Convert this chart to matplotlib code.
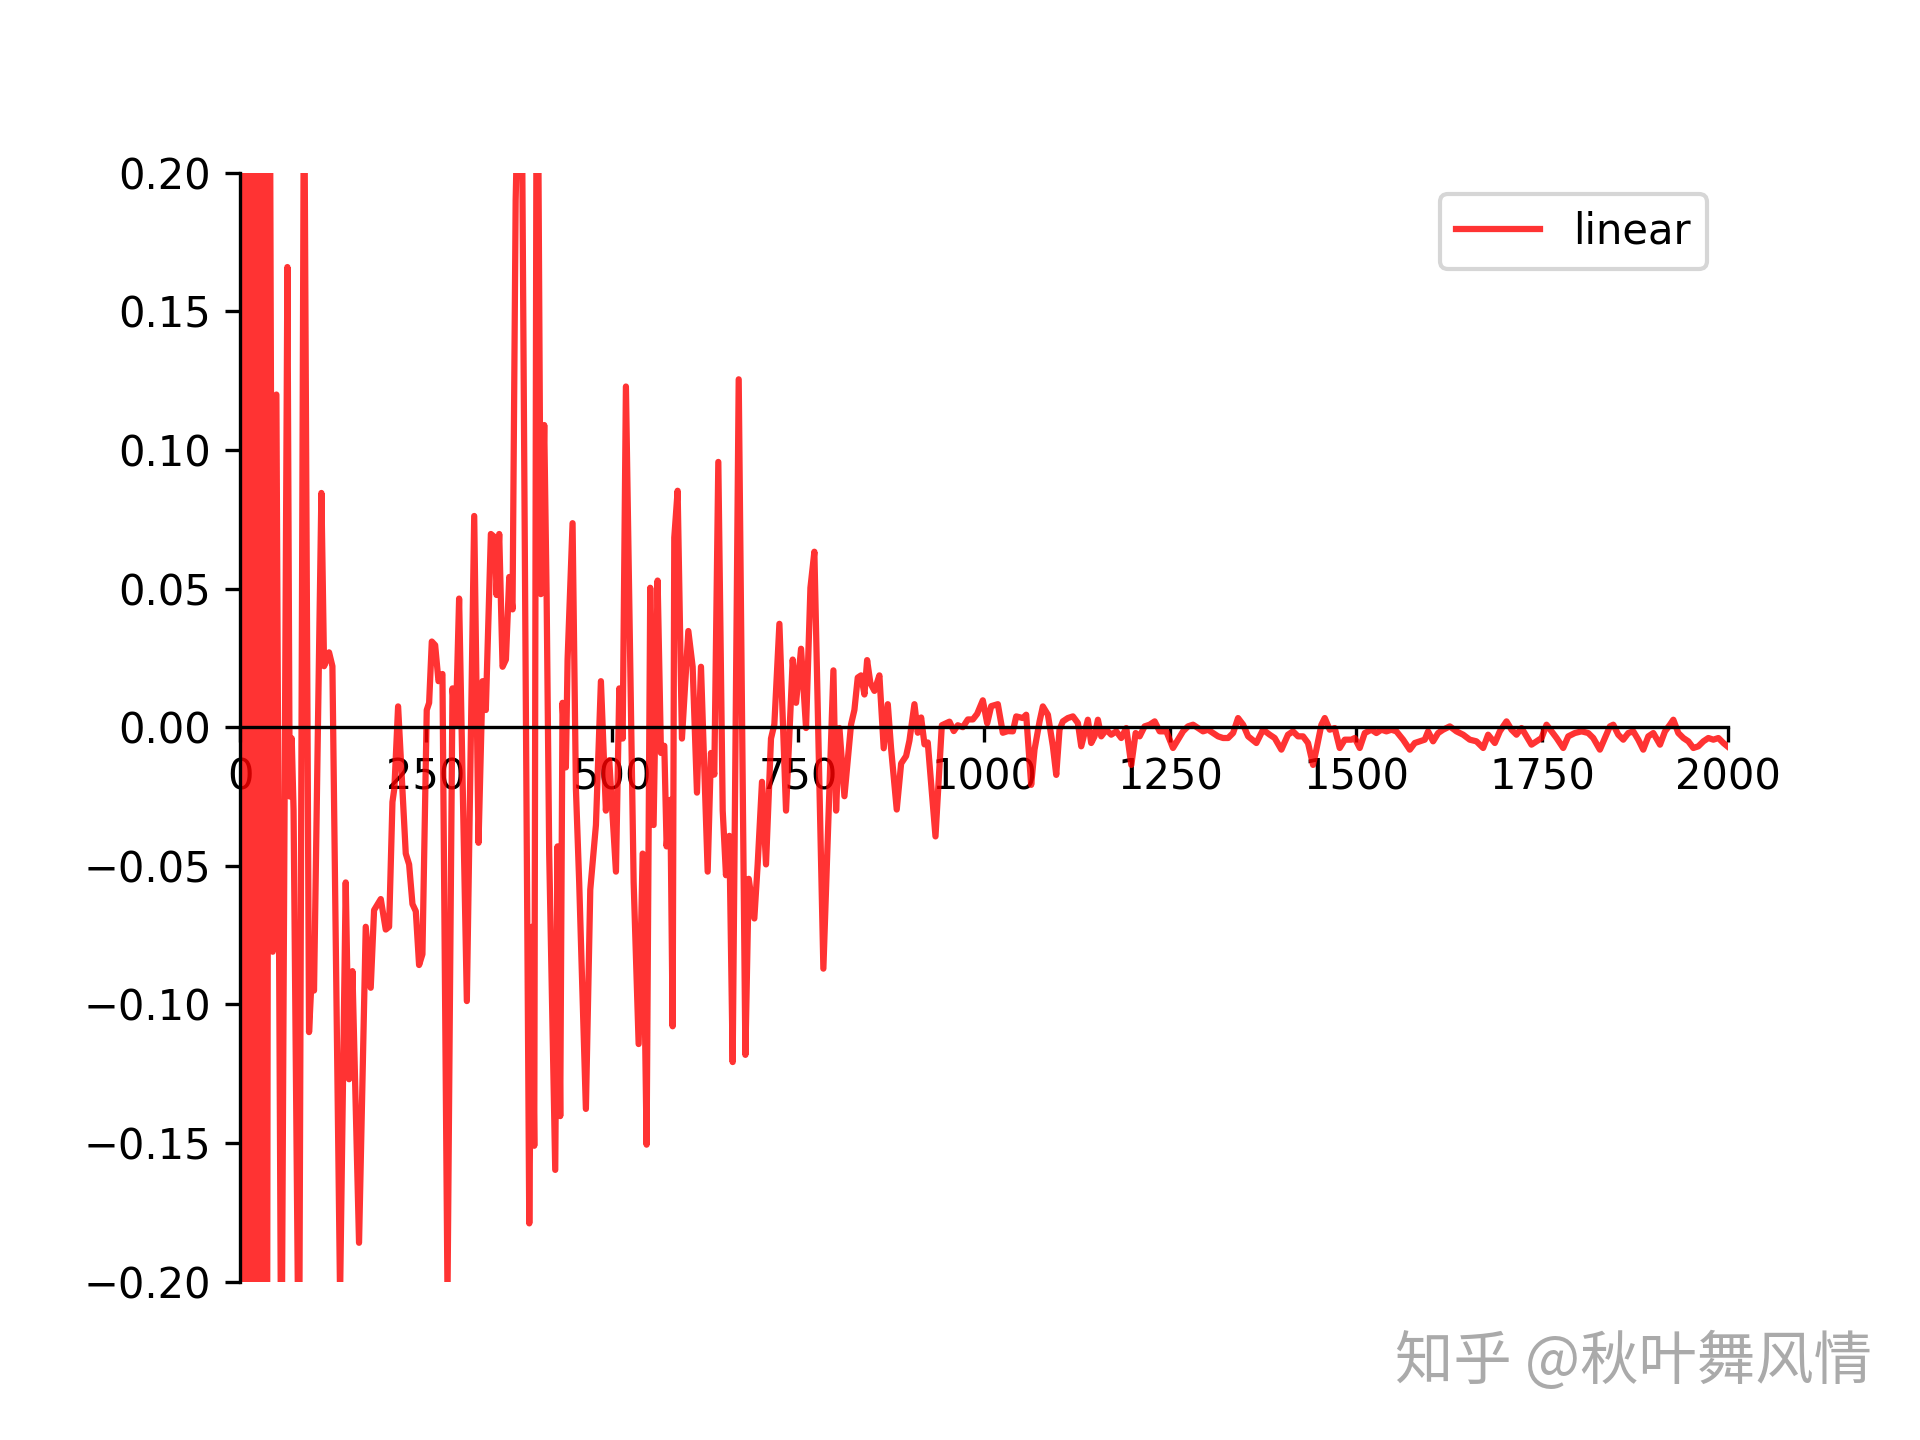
import matplotlib
matplotlib.use("Agg")
import matplotlib.pyplot as plt
import numpy as np

# ---- data ----
# early, heavily oscillating part (clipped by the y-limits)
x_head = [0, 2, 4, 6, 8, 10, 12, 14, 16, 18, 20, 22, 24, 26, 28, 30, 32, 34, 36, 39.5,
          44, 48.9, 55.6, 63.7, 66.8, 69.5, 72, 79.3, 86.1, 92.8, 96, 99.5, 109.4, 113,
          119.7, 124.2, 134.5, 142.1, 146.6, 151.1, 160, 169, 175.7, 180.2, 189.2, 195.9]
y_head = [-0.007, 0.45, -0.50, 0.60, -0.40, 0.55, -0.60, 0.50, -0.45, 0.40, -0.55, 0.60,
          -0.50, 0.45, -0.40, 0.50, -0.45, 0.35, -0.30, 0.30,
          -0.081, 0.120, -0.25, 0.166, -0.025, -0.004, -0.030, -0.25, 0.25, -0.110, -0.092,
          -0.095, 0.0845, 0.022, 0.027, 0.022, -0.205, -0.056, -0.127, -0.088, -0.186,
          -0.072, -0.094, -0.066, -0.062, -0.073]

x_mid1 = [200.4, 204.9, 207.5, 212.5, 218.3, 222.8, 227.3, 231.8, 236.3, 240.7, 245.2,
          251.0, 254.2, 257.8, 262.3, 266.8, 272.1, 278.9, 285.6, 290.1, 294.5, 304.9,
          314.8, 320.6, 326.0, 330.4, 337.2, 343.0, 344.8, 348.4, 352.9, 357.4, 361.9,
          366.3, 370.5, 374.5, 379.0, 388.8, 392.3, 395.5, 399.1, 404.4]
y_mid1 = [-0.072, -0.027, -0.022, 0.0075, -0.0223, -0.0456, -0.0495, -0.0638, -0.0664,
          -0.0858, -0.0819, 0.0062, 0.0088, 0.0309, 0.0296, 0.0166, 0.0192, -0.205, 0.0140,
          0.0010, 0.0464, -0.0988, 0.0762, -0.0417, 0.0166, 0.0062, 0.0697, 0.0684, 0.0477,
          0.0697, 0.0218, 0.0244, 0.0542, 0.0425, 0.19, 0.24, 0.22, -0.179, -0.072, -0.151,
          0.30, 0.048]

x_mid2 = [408.9, 412.1, 415.6, 423.7, 426.8, 430.4, 433.5, 438.0, 440.3, 447.0, 451.5,
          455.9, 464.9, 470.8, 478.4, 485.1, 491.8, 496.3, 505.3, 509.8, 514.3, 518.7,
          529.1, 535.8, 541.2, 546.5, 551.4, 555.9, 561.3, 565.8, 570.3, 573.4, 578.4,
          581.5, 583.7, 588.2, 594.0, 602.6, 608.4, 614.2, 619.6]
y_mid2 = [0.109, 0.048, -0.0456, -0.1597, -0.0430, -0.1403, 0.0088, -0.0145, 0.0244,
          0.0736, -0.0223, -0.0560, -0.1377, -0.0586, -0.0353, 0.0166, -0.0301, -0.0119,
          -0.0521, 0.0140, -0.0041, 0.1229, -0.0560, -0.1143, -0.0456, -0.1506, 0.0503,
          -0.0353, 0.0529, -0.0093, -0.0067, -0.0430, -0.0262, -0.1079, 0.0684, 0.0853,
          -0.0041, 0.0347, 0.0218, -0.0236, 0.0218]

x_mid3 = [628.6, 633.0, 637.5, 642.9, 648.8, 653.2, 657.7, 662.2, 670.3, 679.3, 683.8,
          691.3, 695.8, 701.6, 707.0, 713.7, 718.2, 725.0, 733.9, 742.9, 747.4, 754.1,
          760.8, 766.7, 772.0, 784.1, 797.6, 801.2, 805.7, 812.4, 821.3, 825.8, 830.3]
y_mid3 = [-0.0521, -0.0093, -0.0171, 0.0957, -0.0301, -0.0534, -0.0392, -0.1208, 0.1255,
          -0.1182, -0.0547, -0.0690, -0.0495, -0.0197, -0.0495, -0.0041, 0.0010, 0.0373,
          -0.0301, 0.0244, 0.0088, 0.0283, -0.0003, 0.0503, 0.0633, -0.0871, 0.0205,
          -0.0301, -0.0003, -0.0249, 0.0010, 0.0062, 0.0179]

x_mid4 = [834.8, 839.3, 842.9, 847.3, 852.7, 859.4, 865.2, 870.7, 875.1, 882.7, 888.6,
          895.3, 899.8, 906.5, 911.0, 915.5, 920.0, 924.4, 934.8, 943.3, 953.6, 959.4,
          964.8, 971.5, 978.3, 985.0, 990.8, 998.4, 1004.3, 1009.7, 1018.6, 1025.3, 1032.1]
y_mid4 = [0.0187, 0.0118, 0.0242, 0.0159, 0.0131, 0.0187, -0.0076, 0.0083, -0.0076,
          -0.0297, -0.0131, -0.0104, -0.0048, 0.0083, -0.0020, 0.0035, -0.0062, -0.0055,
          -0.0394, 0.0007, 0.0020, -0.0014, 0.0007, 0.0000, 0.0028, 0.0028, 0.0048, 0.0097,
          0.0014, 0.0076, 0.0083, -0.0020, -0.0014]

x_tail1 = [1038.8, 1043.3, 1052.2, 1056.7, 1063.4, 1067.9, 1074.7, 1079.1, 1085.9, 1092.6,
           1097.1, 1101.5, 1106.0, 1112.7, 1119.5, 1126.2, 1130.7, 1135.1, 1139.6, 1144.1,
           1148.6, 1153.1, 1157.6, 1164.3, 1171.0, 1177.8, 1184.5, 1191.2, 1198.0, 1203.8,
           1209.2, 1215.9, 1222.6, 1229.4, 1236.1, 1245.1, 1254.0, 1260.8, 1267.5, 1274.2,
           1281.0, 1287.7, 1294.4, 1301.1, 1307.9, 1314.6, 1321.3, 1328.1, 1334.8, 1341.5,
           1348.3, 1355.0]
y_tail1 = [-0.0015, 0.0039, 0.0033, 0.0045, -0.0208, -0.0081, 0.0021, 0.0075, 0.0045,
           -0.0069, -0.0172, -0.0009, 0.0021, 0.0033, 0.0039, 0.0015, -0.0069, -0.0021,
           0.0027, -0.0057, -0.0033, 0.0027, -0.0033, -0.0009, -0.0027, -0.0015, -0.0039,
           -0.0003, -0.0136, -0.0021, -0.0033, 0.0003, 0.0009, 0.0021, -0.0015, -0.0015,
           -0.0075, -0.0045, -0.0015, 0.0003, 0.0009, -0.0003, -0.0015, -0.0009, -0.0021,
           -0.0033, -0.0039, -0.0039, -0.0021, 0.0033, 0.0009, -0.0033]

x_tail2 = [1366.1, 1375.0, 1384.0, 1390.7, 1399.7, 1408.6, 1415.3, 1422.1, 1428.8, 1435.5,
           1442.3, 1446.7, 1453.5, 1458.0, 1464.7, 1471.4, 1478.1, 1484.9, 1493.8, 1498.3,
           1505.0, 1511.8, 1520.7, 1527.4, 1534.2, 1540.9, 1547.6, 1554.3, 1563.3, 1572.3,
           1579.0, 1585.7, 1592.4, 1596.9, 1603.6, 1610.4, 1617.1, 1626.1, 1635.0, 1644.0,
           1652.9, 1661.9, 1670.9, 1677.6]
y_tail2 = [-0.0057, -0.0009, -0.0027, -0.0039, -0.0081, -0.0027, -0.0015, -0.0033, -0.0033,
           -0.0057, -0.0136, -0.0081, 0.0009, 0.0033, -0.0009, -0.0003, -0.0075, -0.0045,
           -0.0045, -0.0039, -0.0075, -0.0021, -0.0009, -0.0021, -0.0009, -0.0015, -0.0009,
           -0.0015, -0.0045, -0.0081, -0.0057, -0.0051, -0.0045, -0.0015, -0.0051, -0.0021,
           -0.0009, 0.0003, -0.0015, -0.0027, -0.0045, -0.0051, -0.0075, -0.0027]

x_tail3 = [1686.6, 1693.3, 1702.3, 1709.0, 1715.7, 1722.5, 1729.2, 1735.9, 1742.7, 1749.4,
           1756.1, 1762.8, 1769.6, 1778.5, 1785.3, 1794.2, 1803.2, 1812.1, 1818.9, 1827.8,
           1834.6, 1841.3, 1845.8, 1852.5, 1859.2, 1866.0, 1872.7, 1879.4, 1886.1, 1892.9,
           1899.6, 1908.6, 1915.3, 1922.0, 1926.5, 1933.2, 1940.0, 1946.7, 1953.4, 1960.1,
           1966.9, 1973.6, 1980.3, 1987.1, 1993.8, 1999.2]
y_tail3 = [-0.0057, -0.0015, 0.0021, -0.0009, -0.0027, -0.0003, -0.0033, -0.0063, -0.0051,
           -0.0039, 0.0009, -0.0015, -0.0039, -0.0075, -0.0033, -0.0021, -0.0015, -0.0021,
           -0.0039, -0.0081, -0.0039, 0.0003, 0.0009, -0.0027, -0.0045, -0.0021, -0.0015,
           -0.0045, -0.0081, -0.0033, -0.0021, -0.0063, -0.0015, 0.0009, 0.0027, -0.0021,
           -0.0039, -0.0051, -0.0075, -0.0069, -0.0051, -0.0039, -0.0045, -0.0039, -0.0057,
           -0.0069]

x_ticks = [0, 250, 500, 750, 1000, 1250, 1500, 1750, 2000]
series_label = "linear"
watermark = "知乎 @秋叶舞风情"

x_all = np.array(x_head + x_mid1 + x_mid2 + x_mid3 + x_mid4 + x_tail1 + x_tail2 + x_tail3)
y_all = np.array(y_head + y_mid1 + y_mid2 + y_mid3 + y_mid4 + y_tail1 + y_tail2 + y_tail3)

fig, ax = plt.subplots(figsize=(6.4, 4.8), dpi=300)
ax.plot(x_all, y_all, color="red", alpha=0.8, linewidth=1.5, label=series_label)

ax.set_xlim(0, 2000)
ax.set_ylim(-0.2, 0.2)
ax.set_xticks(x_ticks)
ax.set_yticks([-0.2, -0.15, -0.1, -0.05, 0.0, 0.05, 0.1, 0.15, 0.2])

ax.spines["top"].set_visible(False)
ax.spines["right"].set_visible(False)
ax.spines["bottom"].set_position(("data", 0))
ax.spines["left"].set_position(("data", 0))

ax.legend(loc="upper right")

fig.text(0.975, 0.054, watermark, ha="right", va="center", fontsize=14,
         color="#aaaaaa", family=["Noto Sans CJK SC", "DejaVu Sans"])

fig.savefig("out.png", dpi=300)
